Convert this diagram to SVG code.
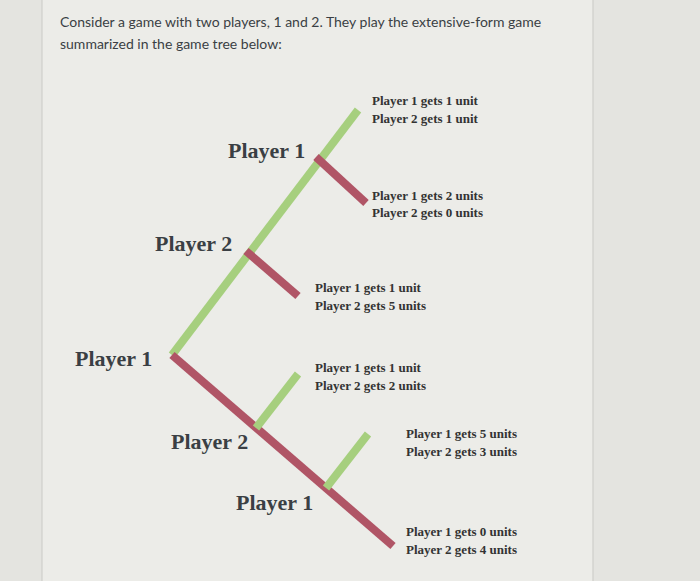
<svg xmlns="http://www.w3.org/2000/svg" width="700" height="581" viewBox="0 0 700 581">
<style>
.g{stroke:#a6cf7e;stroke-width:8;stroke-linecap:butt}
.r{stroke:#b05566;stroke-width:8;stroke-linecap:butt}
.pl{font-family:"Liberation Serif",serif;font-size:22px;font-weight:bold;fill:#3a3f44}
.po{font-family:"Liberation Serif",serif;font-size:13px;fill:#333;font-weight:bold}
.q{font-family:Lato,"Liberation Sans",sans-serif;font-size:14px;fill:#3a3f44}
</style>
<rect width="700" height="581" fill="#e4e4e0"/>
<rect x="42" y="-2" width="551" height="590" fill="#ecece8" stroke="#c9c9c5"/>
<text class="q" x="60" y="27">Consider a game with two players, 1 and 2. They play the extensive-form game</text>
<text class="q" x="60" y="49">summarized in the game tree below:</text>
<g id="connectors">
<line class="g" x1="172" y1="355" x2="358" y2="110"/>
<line class="r" x1="316" y1="157" x2="366" y2="203"/>
<line class="r" x1="246" y1="251" x2="298" y2="296"/>
<line class="r" x1="172" y1="355" x2="393" y2="546"/>
<line class="g" x1="256" y1="428" x2="298" y2="374"/>
<line class="g" x1="326" y1="488" x2="368" y2="434"/>
</g>
<g id="n-root"><text class="pl" x="75" y="366">Player 1</text></g>
<g id="n-p2a"><text class="pl" x="155" y="251">Player 2</text></g>
<g id="n-p1a"><text class="pl" x="228" y="158">Player 1</text></g>
<g id="n-p2b"><text class="pl" x="171" y="449">Player 2</text></g>
<g id="n-p1b"><text class="pl" x="236" y="510">Player 1</text></g>
<g id="t1"><text class="po" x="372" y="105">Player 1 gets 1 unit</text><text class="po" x="372" y="123">Player 2 gets 1 unit</text></g>
<g id="t2"><text class="po" x="372" y="200">Player 1 gets 2 units</text><text class="po" x="372" y="217">Player 2 gets 0 units</text></g>
<g id="t3"><text class="po" x="315" y="292">Player 1 gets 1 unit</text><text class="po" x="315" y="310">Player 2 gets 5 units</text></g>
<g id="t4"><text class="po" x="315" y="372">Player 1 gets 1 unit</text><text class="po" x="315" y="390">Player 2 gets 2 units</text></g>
<g id="t5"><text class="po" x="406" y="438">Player 1 gets 5 units</text><text class="po" x="406" y="456">Player 2 gets 3 units</text></g>
<g id="t6"><text class="po" x="406" y="536">Player 1 gets 0 units</text><text class="po" x="406" y="554">Player 2 gets 4 units</text></g>
</svg>
